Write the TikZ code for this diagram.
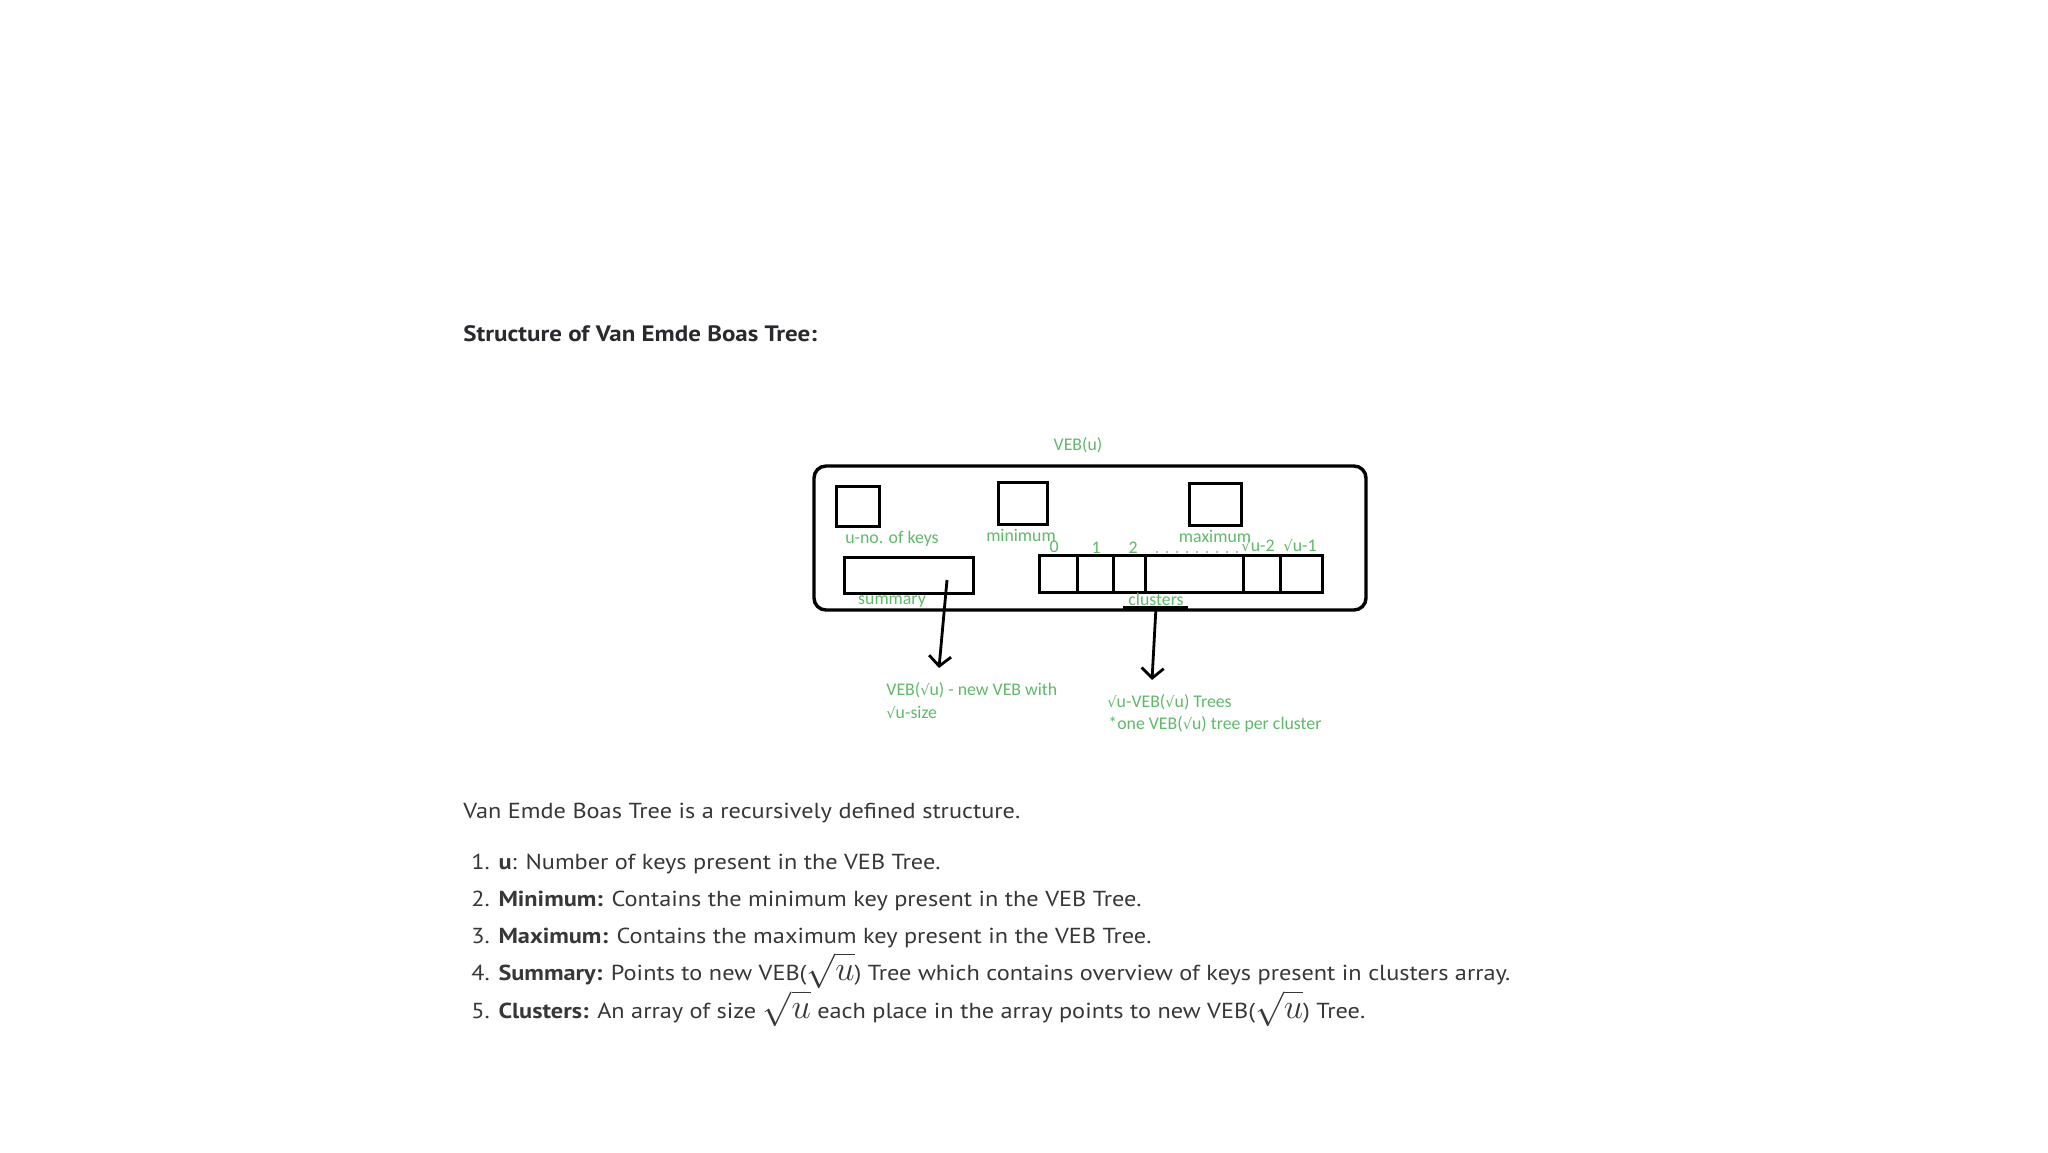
\documentclass[tikz,border=0pt]{standalone}
\usepackage{fontspec}
\setmainfont{PT Sans}[FakeStretch=1.12]
\newfontfamily\lbl{Carlito}
\newfontfamily\djv{DejaVu Sans}
\usetikzlibrary{arrows.meta}
\definecolor{lblgreen}{RGB}{95,185,105}
\definecolor{bodytext}{RGB}{55,55,55}
\definecolor{headtext}{RGB}{40,42,45}
\newcommand\rt{{\djv\fontsize{7.3}{8}\selectfont √}}
\newcommand\bigsq{{\fontsize{16}{16}\selectfont$\sqrt{u}$}}
\begin{document}
\begin{tikzpicture}[x=0.5pt,y=-0.5pt,
  box/.style={draw, line width=1.5pt, inner sep=0pt},
  lab/.style={text=lblgreen, font=\lbl\fontsize{8.9}{10}\selectfont, inner sep=0pt},
  bodytxt/.style={text=bodytext, font=\fontsize{10.85}{13}\selectfont, anchor=base west, inner sep=0pt},
  arr/.style={line width=1.4pt, -{Straight Barb[length=5pt,width=11pt]}}]
\useasboundingbox[fill=white] (0,0) rectangle (2048,1152);

% heading
\node[anchor=base west, inner sep=0pt, text=headtext, font=\bfseries\fontsize{11.15}{13}\selectfont] (head) at (463,341) {Structure of Van Emde Boas Tree:};

% outer VEB box
\node[box, line width=1.7pt, rounded corners=6pt, minimum width=276pt, minimum height=72pt] (outer) at (1090,538) {};
\node[lab] (veblbl) at (1078,445) {VEB(u)};

% top boxes
\node[box, minimum width=21.5pt, minimum height=20pt] (ubox) at (857.5,506) {};
\node[box, minimum width=24.5pt, minimum height=21pt] (minbox) at (1022.5,503) {};
\node[box, minimum width=26pt, minimum height=21pt] (maxbox) at (1215,504) {};
\node[lab] (ulbl) at (892,539) {u-no. of keys};
\node[lab] (minlbl) at (1021,535) {minimum};
\node[lab] (maxlbl) at (1215,536) {maximum};

% summary
\node[box, minimum width=64.5pt, minimum height=18pt] (summary) at (908.5,575) {};
\node[lab] (sumlbl) at (892,602) {summary};

% clusters array
\node[box, minimum width=19pt, minimum height=18.5pt] (c0) at (1058,573.5) {};
\node[box, minimum width=18pt, minimum height=18.5pt] (c1) at (1095,573.5) {};
\node[box, minimum width=16pt, minimum height=18.5pt] (c2) at (1129,573.5) {};
\node[box, minimum width=49pt, minimum height=18.5pt] (c3) at (1194,573.5) {};
\node[box, minimum width=18.5pt, minimum height=18.5pt] (c4) at (1261.5,573.5) {};
\node[box, minimum width=21pt, minimum height=18.5pt] (c5) at (1301,573.5) {};
\node[lab] (i0) at (1054,547) {0};
\node[lab] (i1) at (1096,548) {1};
\node[lab] (i2) at (1133,548) {2};
\node[lab] (i4) at (1258,546) {\rt u-2};
\node[lab] (i5) at (1300,546) {\rt u-1};
\coordinate (dotA) at (1157,552);
\coordinate (dotB) at (1238,552);
\draw[lblgreen!80!gray, line width=1pt, line cap=round, dash pattern=on 0pt off 5pt] (dotA) -- (dotB);
\node[lab] (clulbl) at (1156,599) {clusters};
\coordinate (ulA) at (1123,607);
\coordinate (ulB) at (1188,607);
\draw[line width=1.5pt] (ulA) -- (ulB);

% arrows
\coordinate (sumstart) at (947,580);
\coordinate (sumend) at (939,668);
\draw[arr] (sumstart) -- (sumend);
\coordinate (clustart) at (1156,607);
\coordinate (cluend) at (1152,680);
\draw[arr] (clustart) -- (cluend);

% arrow labels
\node[lab, anchor=west] (sumt1) at (886,690) {VEB(\rt u) - new VEB with};
\node[lab, anchor=west] (sumt2) at (886,713) {\rt u-size};
\node[lab, anchor=west] (clut1) at (1107,702) {\rt u-VEB(\rt u) Trees};
\node[lab, anchor=west] (clut2) at (1108,724) {*one VEB(\rt u) tree per cluster};

% body text
\node[bodytxt] (intro) at (463,818) {Van Emde Boas Tree is a recursively defined structure.};
\node[bodytxt] (it1) at (471,869) {1. \textbf{u}: Number of keys present in the VEB Tree.};
\node[bodytxt] (it2) at (471,906) {2. \textbf{Minimum:} Contains the minimum key present in the VEB Tree.};
\node[bodytxt] (it3) at (471,943) {3. \textbf{Maximum:} Contains the maximum key present in the VEB Tree.};
\node[bodytxt] (it4) at (471,980) {4. \textbf{Summary:} Points to new VEB(\bigsq) Tree which contains overview of keys present in clusters array.};
\node[bodytxt] (it5) at (471,1018) {5. \textbf{Clusters:} An array of size \bigsq{} each place in the array points to new VEB(\bigsq) Tree.};
\end{tikzpicture}
\end{document}
